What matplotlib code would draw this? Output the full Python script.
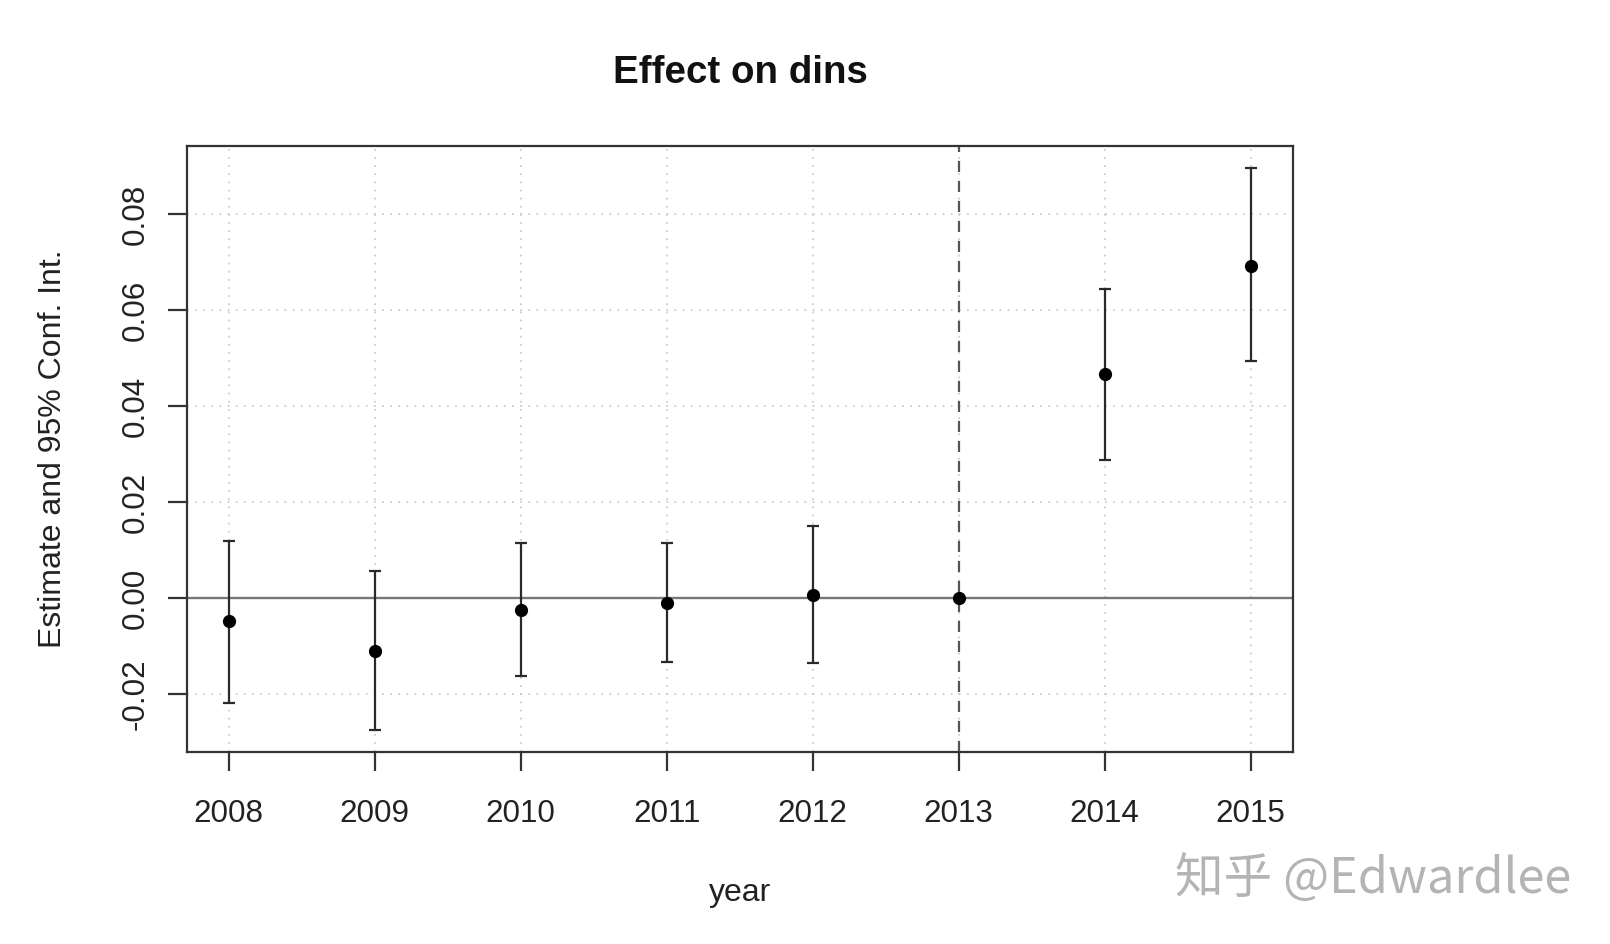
import numpy as np
import matplotlib
matplotlib.use("Agg")
import matplotlib.pyplot as plt

# event-study estimates
years = [2008, 2009, 2010, 2011, 2012, 2013, 2014, 2015]
estimate = [-0.0049, -0.0111, -0.0025, -0.0010, 0.0007, 0.0, 0.0467, 0.0692]
ci_low = [-0.0218, -0.0276, -0.0162, -0.0134, -0.0136, 0.0, 0.0288, 0.0493]
ci_high = [0.0119, 0.0057, 0.0115, 0.0114, 0.0151, 0.0, 0.0645, 0.0897]
yticks = [-0.02, 0.00, 0.02, 0.04, 0.06, 0.08]
ref_year = 2013

plt.rcParams['font.family'] = ['Liberation Sans', 'DejaVu Sans']

fig = plt.figure(figsize=(16.1, 9.44), dpi=100)
ax = fig.add_axes([0.1161, 0.2034, 0.6870, 0.6419])

est = np.array(estimate)
lo = est - np.array(ci_low)
hi = np.array(ci_high) - est
has_ci = (np.array(ci_high) - np.array(ci_low)) > 0
yrs = np.array(years)

# grid
for x in years:
    ax.axvline(x, color='#cccccc', linestyle=(0, (1, 3.5)), lw=1.3, zorder=0)
for y in yticks:
    ax.axhline(y, color='#cccccc', linestyle=(0, (1, 3.5)), lw=1.3, zorder=0)

ax.axhline(0, color='#777777', lw=1.7, zorder=1)
ax.axvline(ref_year, color='#555555', lw=1.6, linestyle=(0, (5, 4)), zorder=1)

ax.errorbar(yrs[has_ci], est[has_ci], yerr=[lo[has_ci], hi[has_ci]], fmt='none',
            ecolor='#2a2a2a', elinewidth=1.6, capsize=4.3, capthick=1.6, zorder=2)
ax.plot(yrs, est, 'o', color='black', markersize=8.5, zorder=3)

ax.set_xlim(2007.714, 2015.29)
ax.set_ylim(-0.0321, 0.0942)
ax.set_xticks(years)
ax.set_xticklabels([str(y) for y in years])
ax.set_yticks(yticks)
ax.set_yticklabels(['%.2f' % v for v in yticks], rotation=90, va='center')

for side in ['top', 'right', 'bottom', 'left']:
    ax.spines[side].set_color('#333333')
    ax.spines[side].set_linewidth(1.6)
ax.tick_params(axis='both', length=14, width=1.6, color='#333333', labelsize=22.6, labelcolor='#222222')
ax.tick_params(axis='x', pad=19.5)
ax.tick_params(axis='y', pad=12)

fig.text(0.4596, 1 - 73 / 944, 'Effect on dins', ha='center', va='center',
         fontsize=27.7, fontweight='bold', color='#111111')
fig.text(0.4596, 1 - 893 / 944, 'year', ha='center', va='center', fontsize=23, color='#222222')
fig.text(53 / 1610, 1 - 449 / 944, 'Estimate and 95% Conf. Int.', ha='center', va='center',
         rotation=90, fontsize=23, color='#222222')

# watermark
fig.text(1175 / 1610, 1 - 879 / 944, '知乎 @Edwardlee', ha='left', va='center',
         fontsize=35, color='#b4b4b4', family=['Noto Sans CJK SC', 'DejaVu Sans'])

fig.savefig('out.png', dpi=100)
